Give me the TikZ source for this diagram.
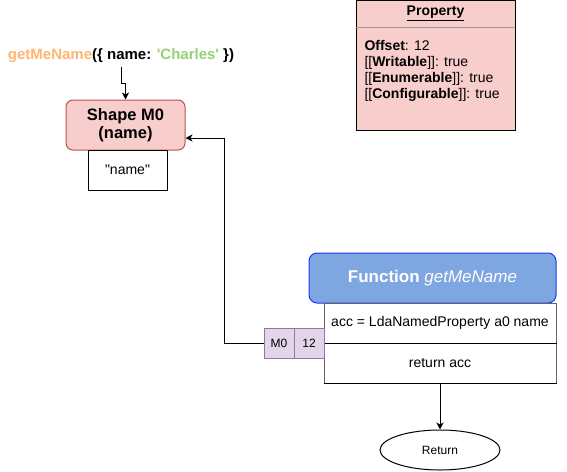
\documentclass[tikz,border=0pt]{standalone}
\usepackage{fontspec}
\setmainfont{Liberation Sans}
\usetikzlibrary{shapes.geometric,arrows.meta,positioning}
\definecolor{shapefill}{HTML}{F8CECC}
\definecolor{shapeline}{HTML}{B85450}
\definecolor{funcfill}{HTML}{7EA6E0}
\definecolor{funcline}{HTML}{2233FF}
\definecolor{cellfill}{HTML}{E1D5E7}
\definecolor{cellline}{HTML}{9673A6}
\definecolor{callorange}{HTML}{FFB570}
\definecolor{callgreen}{HTML}{97D077}

\begin{document}
\begin{tikzpicture}[x=1pt, y=-1pt, line width=1pt,
    shapebox/.style={rectangle, draw=shapeline, fill=shapefill, rounded corners=7pt, inner sep=0pt, minimum width=119pt, minimum height=50pt, align=center, font=\fontsize{16.5}{18.5}\selectfont\bfseries},
    slot/.style={rectangle, draw, fill=white, inner sep=0pt, minimum width=79pt, minimum height=40pt, font=\fontsize{14}{16}\selectfont},
    propbox/.style={rectangle, draw, fill=shapefill, inner sep=0pt, minimum width=159pt, minimum height=130pt},
    funchead/.style={rectangle, draw=funcline, fill=funcfill, rounded corners=8pt, inner sep=0pt, minimum width=247pt, minimum height=50pt, text=white, font=\fontsize{17}{20}\selectfont},
    row/.style={rectangle, draw=black!60, fill=white, inner sep=0pt, minimum width=232pt, minimum height=40pt, font=\fontsize{14}{16}\selectfont},
    cell/.style={rectangle, draw=cellline, fill=cellfill, inner sep=0pt, minimum width=30pt, minimum height=30pt, font=\fontsize{12}{14}\selectfont},
    arrow/.style={-{Stealth[length=7pt, width=7pt, inset=2pt]}},
]
    \useasboundingbox (0,0) rectangle (567,471);

    % Call site
    \node[font=\fontsize{15}{17}\selectfont\bfseries] (call) at (121,56) {\textcolor{callorange}{getMeName}(\{ name: \textcolor{callgreen}{\textquotesingle Charles\textquotesingle} \})};

    % Hidden class
    \node[shapebox] (m0) at (125.5,125) {Shape M0\\(name)};
    \node[slot] (nameslot) at (127.5,170) {\textquotedbl name\textquotedbl};

    % Property descriptor
    \node[propbox] (prop) at (435.5,65) {};
    \node[font=\fontsize{14}{16}\selectfont\bfseries] (proptitle) at (435.5,13.5) {\underline{Property}};
    \draw[black!40] (prop.north west) ++(0,28) -- ++(159,0);
    \node[anchor=north west, align=left, inner sep=0pt, font=\fontsize{14}{16}\selectfont] (propbody) at (364,40)
        {\textbf{Offset}: 12\\{}[[\textbf{Writable}]]: true\\{}[[\textbf{Enumerable}]]: true\\{}[[\textbf{Configurable}]]: true};

    % Function
    \node[funchead] (func) at (432.5,278) {\textbf{Function} \textit{getMeName}};
    \node[row] (row1) at (440,323) {acc = LdaNamedProperty a0 name};
    \node[row] (row2) at (440,363) {return acc};
    \draw (row1.south west) -- (row1.south east);
    \draw (row2.south west) -- (row2.south east);

    % Inline cache
    \node[cell] (m0cell) at (279,343) {M0};
    \node[cell] (offcell) at (309,343) {12};

    % Return
    \node[ellipse, draw, fill=white, inner sep=0pt, minimum width=120pt, minimum height=40pt, font=\fontsize{12}{14}\selectfont] (ret) at (440,450) {Return};

    % Arrows
    \draw[arrow] (call.south) -- ++(0,17) -| (m0.north);
    \draw[arrow] (m0cell.west) -- ++(-39,0) |- ([yshift=-13pt]m0.east);
    \draw[arrow] (row2.south) -- (ret.north);
\end{tikzpicture}
\end{document}
